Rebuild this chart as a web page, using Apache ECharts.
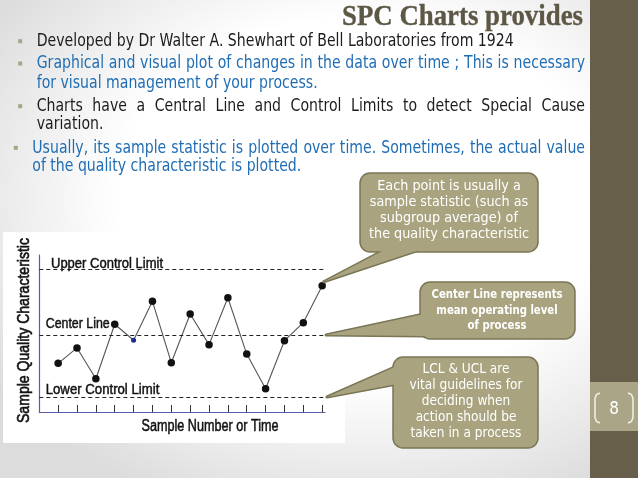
<!DOCTYPE html>
<html><head><meta charset="utf-8">
<script src="https://cdn.jsdelivr.net/npm/echarts@6/dist/echarts.min.js"></script>
<style>
html,body{margin:0;padding:0;}
#c{width:638px;height:478px;background:radial-gradient(ellipse 440px 330px at 360px 200px,#ffffff 55%,#dcdcdc 100%);}
</style></head><body><div id="c"></div>
<script>
// ---------- data ----------
const samples = [1, 2, 3, 4, 5, 6, 7, 8, 9, 10, 11, 12, 13, 14, 15];
const values = [31.0, 40.8, 21.2, 55.9, 45.7, 70.5, 31.4, 62.4, 42.9, 72.8, 36.9, 14.8, 45.4, 56.9, 80.4];
const highlightSample = 5;
const limitLabels = ['Upper Control Limit', 'Center Line', 'Lower Control Limit'];
const limitValues = [91.1, 49.0, 9.6];
const xAxisName = 'Sample Number or Time';
const yAxisName = 'Sample Quality Characteristic';
const titleText = 'SPC Charts provides';
const bodyLines = [
  'Developed by Dr Walter A. Shewhart of Bell Laboratories from 1924',
  'Graphical and visual plot of changes in the data over time ; This is necessary',
  'for visual management of your process.',
  'Charts have a Central Line and Control Limits to detect Special Cause',
  'variation.',
  'Usually, its sample statistic is plotted over time. Sometimes, the actual value',
  'of the quality characteristic is plotted.'
];
const bodyBlue = [false, true, true, false, false, true, true];
const bodyBullet = [true, true, false, true, false, true, false];
const bodyJustify = [false, true, false, true, false, true, false];
const callout1 = ['Each point is usually a', 'sample statistic (such as', 'subgroup average) of', 'the quality characteristic'];
const callout2 = ['Center Line represents', 'mean operating level', 'of process'];
const callout3 = ['LCL & UCL are', 'vital guidelines for', 'deciding when', 'action should be', 'taken in a process'];
const pageNumber = '8';

// ---------- layout / style ----------
const SANS = '"Liberation Sans", Arial, sans-serif';
const BODY = '"DejaVu Sans Condensed", "DejaVu Sans", sans-serif';
const SERIF = '"Liberation Serif", "DejaVu Serif", serif';
const BLACK = '#1c1c1c', BLUE = '#1f6db4', OLIVE = '#675f49', KHAKI = '#a9a47f', KHAKI_EDGE = '#7a7656';
const bodyX = [36.7, 36.7, 36.7, 36.7, 36.7, 32.3, 32.3];
const bodyBase = [46.7, 69, 88.3, 111.7, 130, 153.3, 171.7];
const bodyRight = 585;
const BODY_SIZE = 17;

const mctx = document.createElement('canvas').getContext('2d');
function tw(t, size, fam, weight) { mctx.font = (weight || 'normal') + ' ' + size + 'px ' + fam; return mctx.measureText(t).width; }
function textEl(text, x, base, size, fam, color, o) {
  o = o || {};
  const style = { text: text, fontSize: size, fontFamily: fam, fontWeight: o.weight || 'normal', fill: color,
    align: o.align || 'left', textAlign: o.align || 'left', verticalAlign: 'middle', textVerticalAlign: 'middle' };
  if (o.stroke) { style.stroke = color; style.lineWidth = o.stroke; }
  return { type: 'text', x: x, y: base - 0.3 * size, scaleX: o.scaleX || 1, rotation: o.rotation || 0, z: o.z || 20, style: style };
}

const chart = echarts.init(document.getElementById('c'));
const xMax = 15.15;
chart.setOption({
  animation: false,
  backgroundColor: 'transparent',
  grid: { left: 39.3, top: 255, width: 285.7, height: 157, containLabel: false },
  xAxis: {
    type: 'value', min: 0, max: xMax,
    axisLine: { show: true, lineStyle: { color: '#5a5aa6', width: 1.2 } },
    axisTick: { show: true, inside: true, length: 7, customValues: samples, lineStyle: { color: '#333', width: 1 } },
    axisLabel: { show: false }, splitLine: { show: false }
  },
  yAxis: {
    type: 'value', min: 0, max: 100,
    axisLine: { show: true, lineStyle: { color: '#5a5aa6', width: 1.2 } },
    axisTick: { show: false }, axisLabel: { show: false }, splitLine: { show: false }
  },
  series: [{
    type: 'line', symbol: 'circle', symbolSize: 7.5, silent: true,
    itemStyle: { color: '#111' },
    lineStyle: { color: '#555', width: 1.1 },
    data: samples.map((s, i) => s === highlightSample
      ? { value: [s, values[i]], symbolSize: 5, itemStyle: { color: '#1d2b8f' } }
      : { value: [s, values[i]] }),
    markLine: {
      silent: true, symbol: 'none',
      lineStyle: { type: [4, 3], color: '#222', width: 1 },
      label: { show: false },
      data: limitValues.map(v => ({ yAxis: v }))
    }
  }]
});

// ---------- graphics ----------
const G = [];
const grid = { gridIndex: 0 };
// chart picture background
G.push({ type: 'rect', z: -10, shape: { x: 3, y: 232, width: 342, height: 211 }, style: { fill: '#ffffff' } });

// chart texts (axis names, limit labels)
const LBL_W = [112, 64, 113.6];
const LBL_DX = [11.7, 6.4, 6.4];
const LBL_DY = [0.7, 6.7, 3];
limitLabels.forEach((t, i) => {
  const p = chart.convertToPixel(grid, [0, limitValues[i]]);
  const sc = LBL_W[i] / tw(t, 14, SANS);
  G.push(textEl(t, p[0] + LBL_DX[i], p[1] - LBL_DY[i], 14, SANS, '#111', { scaleX: sc, z: 3, stroke: 0.45 }));
});
{
  const sc = 137 / tw(xAxisName, 16, SANS);
  G.push(textEl(xAxisName, 210, 431.7, 16, SANS, '#111', { align: 'center', scaleX: sc, z: 3, stroke: 0.5 }));
  const sy = 185 / tw(yAxisName, 16, SANS);
  G.push({ type: 'text', x: 24.5, y: 330.5, rotation: Math.PI / 2, scaleX: sy, z: 3,
    style: { text: yAxisName, fontSize: 16, fontFamily: SANS, fill: '#111', stroke: '#111', lineWidth: 0.6,
      align: 'center', textAlign: 'center', verticalAlign: 'middle', textVerticalAlign: 'middle' } });
}

// sidebar
G.push({ type: 'rect', z: 5, shape: { x: 590, y: 0, width: 48, height: 478 }, style: { fill: OLIVE } });
G.push({ type: 'rect', z: 6, shape: { x: 590, y: 382, width: 48, height: 49 }, style: { fill: '#aaa587' } });
G.push({ type: 'polyline', z: 7, shape: { points: [[600, 393], [596.5, 394.5], [595, 398.5], [595, 417.5], [596.5, 421.5], [600, 423]] }, style: { stroke: '#f3f1e6', lineWidth: 1.5, fill: null } });
G.push({ type: 'polyline', z: 7, shape: { points: [[628, 393], [631.5, 394.5], [633, 398.5], [633, 417.5], [631.5, 421.5], [628, 423]] }, style: { stroke: '#f3f1e6', lineWidth: 1.5, fill: null } });
G.push(textEl(pageNumber, 614, 415, 17, BODY, '#ffffff', { align: 'center' }));

// title
const TITLE_SIZE = 29;
const tScale = 241 / tw(titleText, TITLE_SIZE, SERIF, 'bold');
G.push(textEl(titleText, 342, 26.7, TITLE_SIZE, SERIF, '#5d5745', { weight: 'bold', scaleX: tScale, stroke: 0.35 }));

// body text
const bScale = 477 / tw(bodyLines[0], BODY_SIZE, BODY);
bodyLines.forEach((line, i) => {
  const color = bodyBlue[i] ? BLUE : BLACK;
  const x = bodyX[i], base = bodyBase[i];
  if (bodyBullet[i]) {
    G.push({ type: 'rect', z: 20, shape: { x: x - 18.5, y: base - 7.5, width: 4, height: 4 }, style: { fill: '#a8a486' } });
  }
  if (bodyJustify[i]) {
    const words = line.split(' ');
    const ws = words.map(w => tw(w, BODY_SIZE, BODY) * bScale);
    const total = ws.reduce((a, b) => a + b, 0);
    const gap = (bodyRight - x - total) / (words.length - 1);
    let cx = x;
    words.forEach((w, k) => { G.push(textEl(w, cx, base, BODY_SIZE, BODY, color, { scaleX: bScale })); cx += ws[k] + gap; });
  } else {
    G.push(textEl(line, x, base, BODY_SIZE, BODY, color, { scaleX: bScale }));
  }
});

// callouts
const lastPt = chart.convertToPixel(grid, [samples[samples.length - 1], values[values.length - 1]]);
const clEnd = chart.convertToPixel(grid, [xMax, limitValues[1]]);
const lclEnd = chart.convertToPixel(grid, [xMax, limitValues[2]]);
const callouts = [
  { lines: callout1, box: [360, 173, 178, 79], tip: [lastPt[0] + 1.5, lastPt[1] - 4], a: [388, 248], b: [425, 248], size: 13.5, weight: 'normal', widest: 160, cx: 449, base0: 190.3, lh: 16 },
  { lines: callout2, box: [420, 282, 155, 57], tip: [clEnd[0] + 1, clEnd[1]], a: [424, 314], b: [424, 336], size: 11.5, weight: 'bold', widest: 131, cx: 497, base0: 298.3, lh: 15.8 },
  { lines: callout3, box: [393, 357, 145, 91], tip: [lclEnd[0] + 2, lclEnd[1]], a: [397, 366], b: [397, 384], size: 13.5, weight: 'normal', widest: 113, cx: 466, base0: 373.3, lh: 16 }
];
callouts.forEach(c => {
  const pts = [c.tip, c.a, c.b];
  G.push({ type: 'polygon', z: 11, shape: { points: pts }, style: { fill: KHAKI, stroke: KHAKI_EDGE, lineWidth: 3, lineJoin: 'round' } });
  G.push({ type: 'rect', z: 12, shape: { x: c.box[0], y: c.box[1], width: c.box[2], height: c.box[3], r: 10 }, style: { fill: KHAKI, stroke: KHAKI_EDGE, lineWidth: 1.5 } });
  G.push({ type: 'polygon', z: 13, shape: { points: pts }, style: { fill: KHAKI } });
  const longest = c.lines.reduce((m, l) => Math.max(m, tw(l, c.size, BODY, c.weight)), 0);
  const sc = c.widest / longest;
  c.lines.forEach((l, k) => {
    G.push(textEl(l, c.cx, c.base0 + k * c.lh, c.size, BODY, '#ffffff', { align: 'center', scaleX: sc, weight: c.weight, z: 14 }));
  });
});

chart.setOption({ graphic: { elements: G } });
</script></body></html>
